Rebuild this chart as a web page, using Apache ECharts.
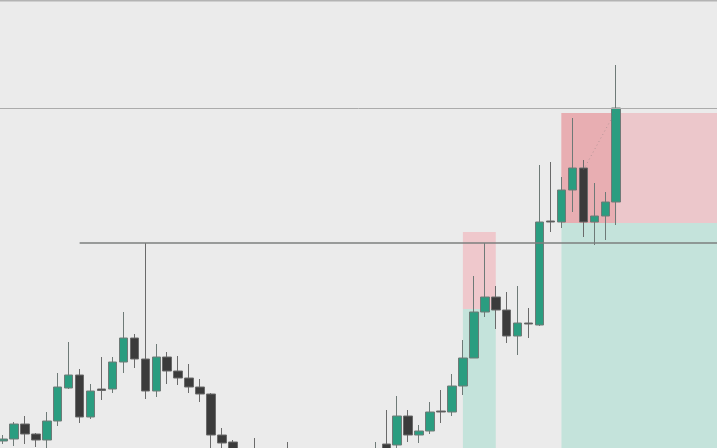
<!DOCTYPE html>
<html>
<head>
<meta charset="utf-8">
<style>html,body{margin:0;padding:0;background:#ebebeb;}#c{width:717px;height:448px;}</style>
<script src="https://cdn.jsdelivr.net/npm/echarts@6/dist/echarts.min.js"></script>
</head>
<body>
<div id="c"></div>
<script>
// price units (arbitrary scale)
const opens  = [7,9,24,14,8,27,60,73,31,59,59,86,110,89,57,91,77,70,61,54,13,6,-7,-12,-17,-20,-14,-18,-22,-18,-24,-20,-15,-18,-10,4,3,32,13,17,37,36,62,90,136,151,138,112,125,123,227,226,258,280,226,232,246];
const closes = [9,24,14,8,27,61,73,31,57,57.5,86,110,89,57,91,77,70,61,54,13,5,-7,-14,-17,-22,-16,-18,-22,-18,-24,-20,-15,-18,-10,-7,-4,32,13,17,36,36,62,90,136,151,138,112,125,124,226,226,258,280,226,232,246,340];
const lows   = [4,2,4,1,-2,22,59,25,29,48,55,75,80,49,51,64,63,55,46,-4,-7,-12,-22,-22,-27,-27,-24,-30,-28,-32,-30,-26,-24,-22,-14,-10,0,6,5,14,25,32,53,90,131,119,105,93,110,122,216,220,236,211,203,208,223];
const highs  = [13,26,32,15,36,75,106,79,64,91,91,136,114,205,104,96,92,84,69,55,20,8,-2,10,-7,-10,6,-7,-10,-12,-14,-8,-7,-4,6,38,52,38,23,46,58,74,108,172,205,162,156,162,140,283,286,271,330,288,265,256,383];
const slotCount = 67;
const categories = Array.from({length: slotCount}, (_, i) => String(i + 1));

// zones and levels
const levelTop = 340;      // upper horizontal level
const levelMid = 205;      // swing-high level
const zone1 = {from: '43', to: '46', top: 216, mid: 139};
const zone2 = {from: '52', to: '67', darkTo: '57', top: 335, mid: 225};
const midLineFrom = '8';

const candleData = opens.map((o, i) => [o, closes[i], lows[i], highs[i]]);
while (candleData.length < slotCount) candleData.push('-');

const chart = echarts.init(document.getElementById('c'), null, {renderer: 'canvas'});
chart.setOption({
  animation: false,
  backgroundColor: '#ebebeb',
  grid: {left: -2.5, right: -14.2, top: 0, bottom: 0, outerBoundsMode: 'none', containLabel: false},
  xAxis: {type: 'category', data: categories, show: false, boundaryGap: true},
  yAxis: {type: 'value', min: 0, max: 448, show: false, splitLine: {show: false}},
  series: [
    {
      type: 'line', data: [], z: 1, silent: true,
      markArea: {
        silent: true,
        data: [
          [{xAxis: zone1.from, yAxis: zone1.top, itemStyle: {color: '#efc8cc'}}, {xAxis: zone1.to, yAxis: zone1.mid}],
          [{xAxis: zone1.from, yAxis: zone1.mid, itemStyle: {color: '#c4e3db'}}, {xAxis: zone1.to, yAxis: 0}],
          [{xAxis: zone2.from, yAxis: zone2.top, itemStyle: {color: '#ecc7cb'}}, {xAxis: zone2.to, yAxis: zone2.mid}],
          [{xAxis: zone2.from, yAxis: zone2.top, itemStyle: {color: '#e8aeb2'}}, {xAxis: zone2.darkTo, yAxis: zone2.mid}],
          [{xAxis: zone2.from, yAxis: zone2.mid, itemStyle: {color: '#c4e3db'}}, {xAxis: zone2.to, yAxis: 0}]
        ]
      }
    },
    {
      type: 'line', data: [], z: 2, silent: true,
      markLine: {
        silent: true, symbol: 'none', label: {show: false},
        data: [
          {yAxis: levelTop, lineStyle: {color: '#ababab', width: 1, type: 'solid'}},
          [{xAxis: midLineFrom, yAxis: levelMid, lineStyle: {color: '#7c7f7e', width: 1.5, type: 'solid'}}, {xAxis: '67', yAxis: levelMid}],
          [{xAxis: '54', yAxis: 278, lineStyle: {color: 'rgba(120,120,120,0.45)', width: 1, type: [1, 3]}}, {xAxis: '57', yAxis: 338}]
        ]
      }
    },
    {
      type: 'candlestick',
      z: 3,
      data: candleData,
      barWidth: 9,
      clip: true,
      itemStyle: {
        color: '#2a9d80',
        color0: '#3b3b3b',
        borderColor: '#6e7a77',
        borderColor0: '#6a6a6a',
        borderWidth: 1
      }
    }
  ],
  graphic: [
    {type: 'rect', shape: {x: 0, y: 0, width: 717, height: 1.5}, style: {fill: '#b3b3b3'}, z: 10}
  ]
});
</script>
</body>
</html>
